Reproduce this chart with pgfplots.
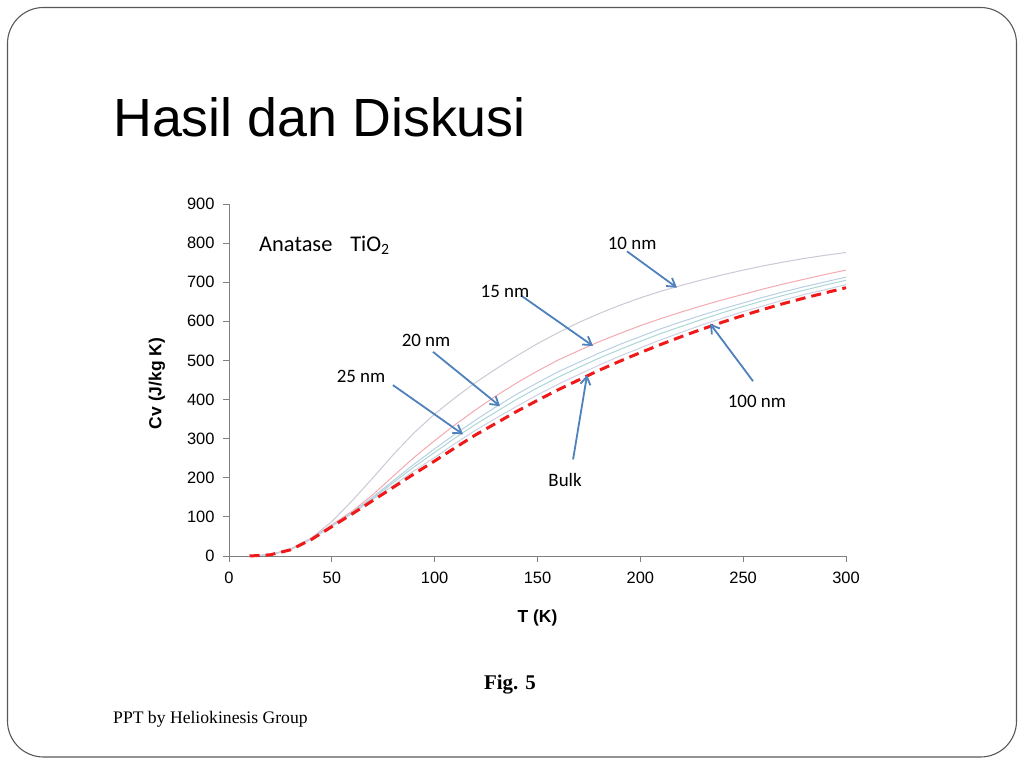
\documentclass[border=0pt]{standalone}
\usepackage{fontspec}
\setmainfont{Liberation Sans}
\newfontfamily\calibri{Carlito}
\newfontfamily\tnr{Liberation Serif}
\usepackage{pgfplots}
\usepackage{pgfplotstable}
\pgfplotsset{compat=1.18}
\usetikzlibrary{arrows.meta}
\definecolor{arrowblue}{HTML}{4F81BD}
\definecolor{cgray}{HTML}{CACAD6}
\definecolor{cpink}{HTML}{F4AAB2}
\definecolor{cblue}{HTML}{B8D0E4}
\definecolor{cteal}{HTML}{ACD6D8}
\definecolor{clav}{HTML}{CCD2E4}
\definecolor{cred}{HTML}{F01818}

\pgfplotstableread{
T   nm10 nm15 nm20 nm25 nm100 bulk
10  0    0    0    0    0     0
20  3    3    3    3    3     3
30  18   17   17   16   16    16
40  46   45   44   43   43    42
50  88   80   78   77   76    75
60  142  115  112  111  109   108
70  200  157  151  148  145   142
80  260  205  193  188  181   176
90  315  252  235  228  218   210
100 363  295  274  265  252   243
110 405  336  312  302  288   277
120 444  374  348  337  322   310
130 479  410  382  369  353   340
140 512  443  414  401  383   370
150 543  473  443  430  412   398
160 571  501  471  457  439   425
170 597  525  495  482  464   450
180 620  548  519  506  488   475
190 641  569  541  528  511   498
200 660  589  561  549  532   520
210 677  607  581  569  553   541
220 692  624  599  587  572   561
230 706  640  616  605  591   580
240 719  655  632  622  608   598
250 731  669  647  638  625   615
260 742  683  662  653  640   631
270 752  696  676  667  655   646
280 761  708  689  680  669   660
290 769  720  701  693  681   673
300 776  731  713  705  694   686
}\cvdata

\begin{document}
\begin{tikzpicture}
\useasboundingbox (0bp,0bp) rectangle (1024bp,768bp);
\fill[white] (0bp,0bp) rectangle (1024bp,768bp);
\draw[black!65, line width=1.1bp, rounded corners=36bp] (7.5bp,11bp) rectangle (1016.5bp,760.5bp);

\node[anchor=base west, inner sep=0pt, font=\fontsize{54}{62}\selectfont] at (113bp,631bp) {Hasil dan Diskusi};

\begin{axis}[
  at={(229bp,212bp)}, anchor=south west, scale only axis,
  width=617bp, height=352bp,
  xmin=0, xmax=300, ymin=0, ymax=900,
  xtick={0,50,...,300}, ytick={0,100,...,900},
  axis x line=bottom, axis y line=left,
  axis line style={-, draw=black!50, line width=0.9bp},
  tick style={draw=black!50, line width=0.9bp},
  tick align=outside, major tick length=6bp,
  ticklabel style={font=\fontsize{16.5}{19}\selectfont},
  xticklabel style={yshift=-7bp},
  yticklabel style={xshift=-5bp},
  /pgf/number format/assume math mode=true,
  xlabel={T (K)}, ylabel={Cv (J/kg K)},
  label style={font=\bfseries\fontsize{17.5}{20}\selectfont},
  xlabel style={at={(axis description cs:0.5,-0.176)}, anchor=center},
  ylabel style={at={(axis description cs:-0.117,0.49)}, anchor=center},
  clip=false,
]
\addplot[cgray, line width=1bp] table[x=T, y=nm10] {\cvdata};
\addplot[cpink, line width=1bp] table[x=T, y=nm15] {\cvdata};
\addplot[cblue, line width=1bp] table[x=T, y=nm20] {\cvdata};
\addplot[cteal, line width=1bp] table[x=T, y=nm25] {\cvdata};
\addplot[clav, line width=1bp] table[x=T, y=nm100] {\cvdata};
\addplot[cred, line width=3bp, dash pattern=on 10bp off 6bp] table[x=T, y=bulk] {\cvdata};

\node[anchor=west, inner sep=0pt, font=\calibri\fontsize{22.5}{26}\selectfont] at (axis cs:14.6,795) {Anatase\hspace{0.8em}TiO\textsubscript{2}};

\begin{scope}[arrowblue, line width=1.8bp, -{Straight Barb[length=8bp, width=10bp]}]
\draw (axis cs:193.5,779) -- (axis cs:217.8,686);
\draw (axis cs:142,666) -- (axis cs:177,537);
\draw (axis cs:99.2,522) -- (axis cs:131.8,383);
\draw (axis cs:79.7,437) -- (axis cs:113.8,311);
\draw (axis cs:254.8,447) -- (axis cs:233.9,594);
\draw (axis cs:167.3,247) -- (axis cs:174.1,463);
\end{scope}
\begin{scope}[font=\calibri\fontsize{19}{22}\selectfont, inner sep=0pt]
\node at (axis cs:196,800) {10 nm};
\node at (axis cs:134.2,676) {15 nm};
\node at (axis cs:95.8,550) {20 nm};
\node at (axis cs:64.2,458) {25 nm};
\node at (axis cs:256.7,396) {100 nm};
\node at (axis cs:163.4,195) {Bulk};
\end{scope}
\end{axis}

\node[font=\tnr\bfseries\fontsize{21}{24}\selectfont] at (510bp,83bp) {Fig. 5};
\node[anchor=base west, inner sep=0pt, font=\tnr\fontsize{17.7}{21}\selectfont] at (113bp,44bp) {PPT by Heliokinesis Group};
\end{tikzpicture}
\end{document}
